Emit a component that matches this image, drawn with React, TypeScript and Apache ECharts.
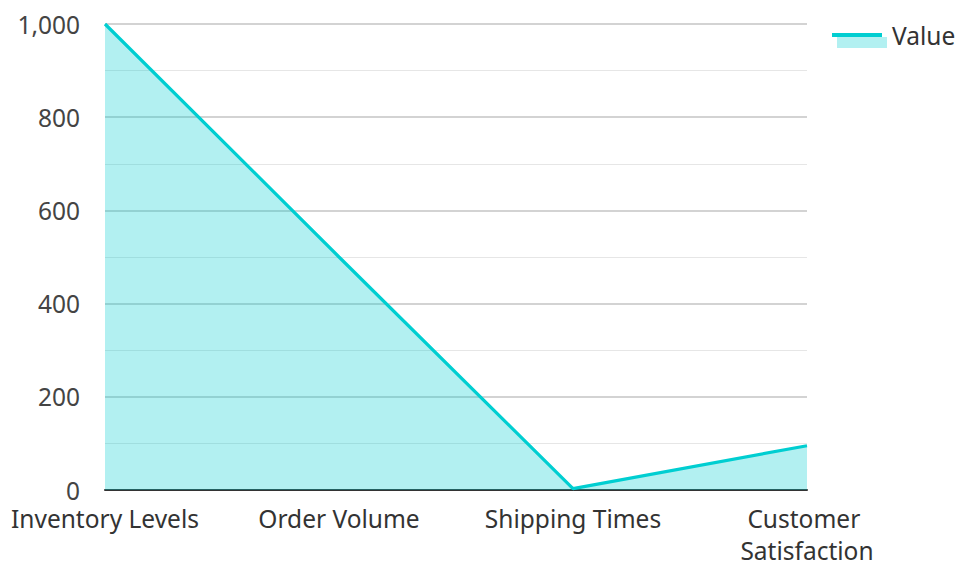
import React, { useEffect, useRef } from "react";
import * as echarts from "echarts";

const categories = ["Inventory Levels", "Order Volume", "Shipping Times", "Customer Satisfaction"];
const values = [1000, 500, 3, 95];
const seriesName = "Value";
const lineColor = "#00CED1";

export default function App() {
  const ref = useRef<HTMLDivElement>(null);
  useEffect(() => {
    const chart = echarts.init(ref.current!, null, { renderer: "svg" });
    chart.setOption({
      animation: false,
      textStyle: { fontFamily: "Noto Sans" },
      legend: {
        data: [{ name: seriesName, icon: "path://M0,0H50V0.01H0Z M0,15H50V26H0Z" }],
        left: 832,
        top: 17,
        padding: 5,
        itemWidth: 50,
        itemHeight: 26,
        itemGap: 9,
        itemStyle: { color: "rgba(0,206,209,0.3)", borderWidth: 0 },
        textStyle: {
          fontSize: 24.5,
          color: "#333",
          fontFamily: "Noto Sans",
        },
      },
      graphic: [
        { type: "rect", left: 832, top: 33, shape: { width: 50, height: 4 }, style: { fill: lineColor } },
      ],
      grid: {
        left: 105,
        right: 150,
        top: 24,
        bottom: 72,
        containLabel: false,
        outerBoundsMode: "none",
      },
      xAxis: {
        type: "category",
        data: categories,
        boundaryGap: false,
        axisLine: { lineStyle: { color: "#333", width: 2 } },
        axisTick: { show: false },
        axisLabel: {
          interval: 0,
          fontSize: 24.5,
          color: "#333",
          margin: 12,
          lineHeight: 32,
          width: 205,
          overflow: "break",
          hideOverlap: false,
          fontFamily: "Noto Sans",
        },
      },
      yAxis: {
        type: "value",
        min: 0,
        max: 1000,
        interval: 200,
        axisLine: { show: false },
        axisTick: { show: false },
        axisLabel: {
          fontSize: 24.5,
          color: "#444",
          margin: 25,
          fontFamily: "Noto Sans",
          formatter: (v: number) => v.toLocaleString("en-US"),
        },
        splitLine: { lineStyle: { color: "#c4c4c4", width: 1.5 } },
        minorTick: { show: false, splitNumber: 2 },
        minorSplitLine: { show: true, lineStyle: { color: "#e6e6e6", width: 1 } },
      },
      series: [
        {
          name: seriesName,
          type: "line",
          data: values,
          symbol: "none",
          lineStyle: { color: lineColor, width: 3.2 },
          itemStyle: { color: lineColor },
          areaStyle: { color: lineColor, opacity: 0.3 },
        },
      ],
    });
    return () => chart.dispose();
  }, []);
  return <div ref={ref} style={{ width: 957, height: 562, position: "absolute", left: 0, top: 0 }} />;
}
